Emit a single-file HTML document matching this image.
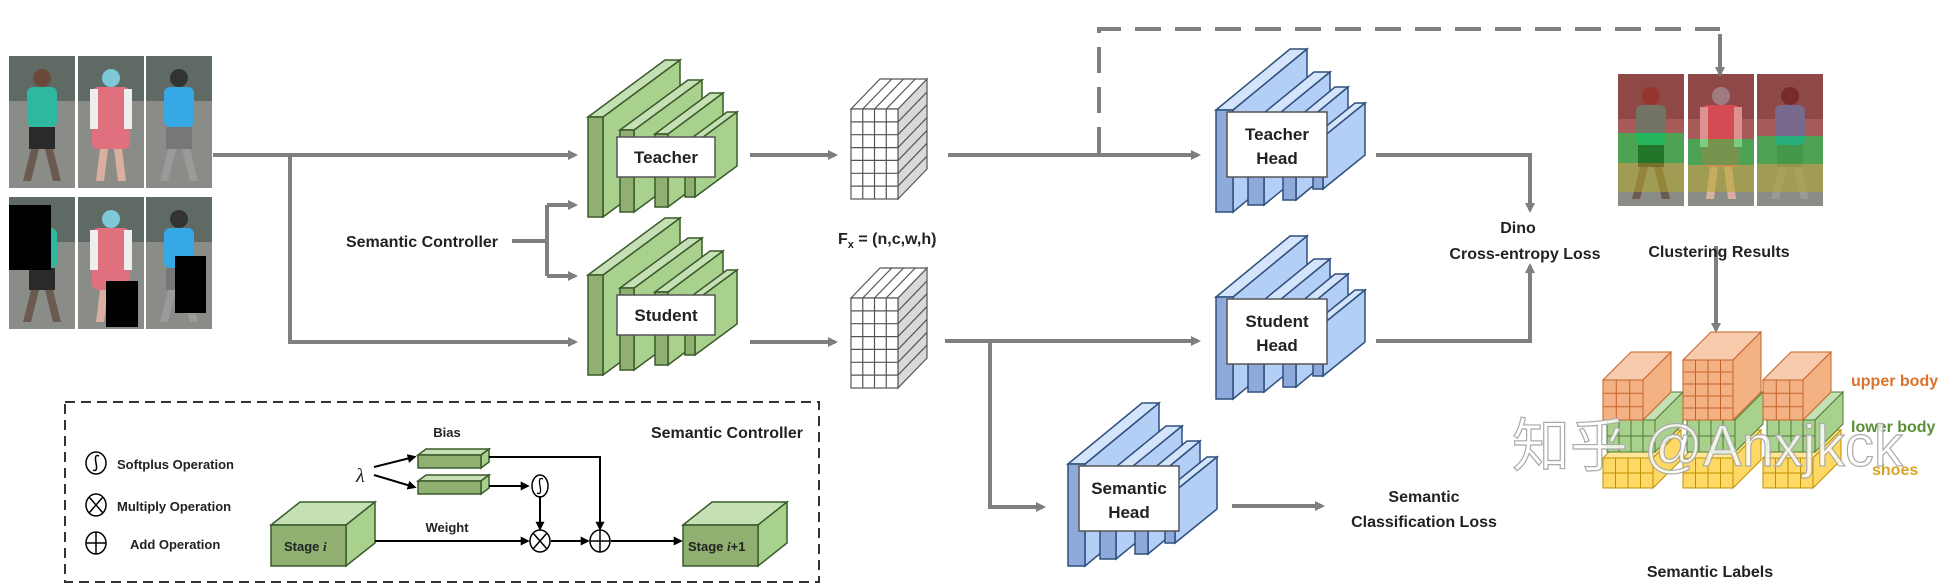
<!DOCTYPE html>
<html><head><meta charset="utf-8"><style>
html,body{margin:0;padding:0;background:#fff;width:1955px;height:587px;overflow:hidden}
svg{display:block}
text{font-family:"Liberation Sans","Noto Sans CJK SC",sans-serif;font-weight:bold;fill:#222}
</style></head><body>
<svg width="1955" height="587" viewBox="0 0 1955 587" xmlns="http://www.w3.org/2000/svg" xmlns:xlink="http://www.w3.org/1999/xlink">
<defs>
<marker id="ag" markerWidth="10" markerHeight="10" refX="7" refY="5" orient="auto" markerUnits="userSpaceOnUse" viewBox="0 0 10 10"><path d="M0,0 L10,5 L0,10 z" fill="#7f7f7f"/></marker>
<marker id="ab" markerWidth="9" markerHeight="9" refX="7" refY="5" orient="auto" markerUnits="userSpaceOnUse" viewBox="0 0 10 10"><path d="M0,0 L10,5 L0,10 z" fill="#000"/></marker>
<g id="gblk" stroke="#3a5a2a" stroke-width="1.5">
<polygon points="603,117 680,60 680,160 603,217" fill="#a9d18e"/>
<polygon points="588,117 665,60 680,60 603,117" fill="#c5e0b4"/>
<rect x="588" y="117" width="15" height="100" fill="#8fb070"/>
<polygon points="634,130 702,80 702,162 634,212" fill="#a9d18e"/>
<polygon points="620,130 688,80 702,80 634,130" fill="#c5e0b4"/>
<rect x="620" y="130" width="14" height="82" fill="#8fb070"/>
<polygon points="668,134 723,93 723,166 668,207" fill="#a9d18e"/>
<polygon points="655,134 710,93 723,93 668,134" fill="#c5e0b4"/>
<rect x="655" y="134" width="13" height="73" fill="#8fb070"/>
<polygon points="695,143 737,112 737,166 695,197" fill="#a9d18e"/>
<polygon points="685,143 727,112 737,112 695,143" fill="#c5e0b4"/>
<rect x="685" y="143" width="10" height="54" fill="#8fb070"/>
</g>
<g id="bblk" stroke="#2f4f7f" stroke-width="1.5">
<polygon points="1233,110 1307,49 1307,151 1233,212" fill="#b4cff5"/>
<polygon points="1216,110 1290,49 1307,49 1233,110" fill="#d3e4fb"/>
<rect x="1216" y="110" width="17" height="102" fill="#8eaadb"/>
<polygon points="1264,126 1330,72 1330,151 1264,205" fill="#b4cff5"/>
<polygon points="1248,126 1314,72 1330,72 1264,126" fill="#d3e4fb"/>
<rect x="1248" y="126" width="16" height="79" fill="#8eaadb"/>
<polygon points="1296,130 1348,87 1348,157 1296,200" fill="#b4cff5"/>
<polygon points="1283,130 1335,87 1348,87 1296,130" fill="#d3e4fb"/>
<rect x="1283" y="130" width="13" height="70" fill="#8eaadb"/>
<polygon points="1323,137 1365,103 1365,155 1323,189" fill="#b4cff5"/>
<polygon points="1313,137 1355,103 1365,103 1323,137" fill="#d3e4fb"/>
<rect x="1313" y="137" width="10" height="52" fill="#8eaadb"/>
</g>
<g id="fcube" stroke="#555" stroke-width="1.2">
<polygon points="898,109 927,79 927,169 898,199" fill="#d9d9d9"/>
<polygon points="851,109 880,79 927,79 898,109" fill="#fff"/>
<rect x="851" y="109" width="47" height="90" fill="#fff"/>
<path fill="none" d="M862.75,109V199M874.5,109V199M886.25,109V199M862.75,109L891.75,79M874.5,109L903.5,79M886.25,109L915.25,79M851,121.9H898M851,134.7H898M851,147.6H898M851,160.4H898M851,173.3H898M851,186.1H898M898,121.9L927,91.9M898,134.7L927,104.7M898,147.6L927,117.6M898,160.4L927,130.4M898,173.3L927,143.3M898,186.1L927,156.1"/>
</g>
<g id="p0"><rect width="66" height="132" fill="#8a8c88"/><rect width="66" height="45" fill="#5f6a64"/><circle cx="33" cy="22" r="9" fill="#6b4a3a"/><rect x="18" y="31" width="30" height="40" rx="6" fill="#2fb8a0"/><rect x="20" y="71" width="26" height="22" fill="#2a2a2a"/><polygon points="22,93 30,93 22,125 14,125" fill="#6a5a50"/><polygon points="36,93 44,93 52,125 44,125" fill="#6a5a50"/></g>
<g id="p1"><rect width="66" height="132" fill="#8a8c88"/><rect width="66" height="45" fill="#5f6a64"/><circle cx="33" cy="22" r="9" fill="#7fc8d8"/><rect x="14" y="31" width="38" height="62" rx="6" fill="#e0707e"/><rect x="12" y="33" width="8" height="40" fill="#eee"/><rect x="46" y="33" width="8" height="40" fill="#eee"/><polygon points="22,93 30,93 26,125 18,125" fill="#d9b0a0"/><polygon points="36,93 44,93 48,125 40,125" fill="#d9b0a0"/></g>
<g id="p2"><rect width="66" height="132" fill="#8a8c88"/><rect width="66" height="45" fill="#5f6a64"/><circle cx="33" cy="22" r="9" fill="#333"/><rect x="18" y="31" width="30" height="40" rx="6" fill="#35a8e6"/><rect x="20" y="71" width="26" height="22" fill="#777"/><polygon points="22,93 30,93 22,125 14,125" fill="#9a9a9a"/><polygon points="36,93 44,93 52,125 44,125" fill="#9a9a9a"/></g>
<g id="vy" stroke="#bf9000"><polygon points="0,458 28,430 78,430 50,458" fill="#ffe699"/><polygon points="50,458 78,430 78,460 50,488" fill="#ffd966"/><rect x="0" y="458" width="50" height="30" fill="#ffd966"/><path fill="none" d="M12.5,458V488M25,458V488M37.5,458V488M0,473H50"/></g>
<g id="vg" stroke="#4e7a30"><polygon points="4,420 32,392 80,392 52,420" fill="#c5e0b4"/><polygon points="52,420 80,392 80,424 52,452" fill="#a9d18e"/><rect x="4" y="420" width="48" height="32" fill="#a9d18e"/><path fill="none" d="M16,420V452M28,420V452M40,420V452M4,436H52"/></g>
<g id="vos" stroke="#c5632a"><polygon points="0,380 28,352 68,352 40,380" fill="#f8cbad"/><polygon points="40,380 68,352 68,392 40,420" fill="#f4b183"/><rect x="0" y="380" width="40" height="40" fill="#f4b183"/><path fill="none" d="M13.3,380V420M26.7,380V420M0,393.3H40M0,406.7H40"/></g>
<g id="vot" stroke="#c5632a"><polygon points="0,360 28,332 78,332 50,360" fill="#f8cbad"/><polygon points="50,360 78,332 78,392 50,420" fill="#f4b183"/><rect x="0" y="360" width="50" height="60" fill="#f4b183"/><path fill="none" d="M12.5,360V420M25,360V420M37.5,360V420M0,372H50M0,384H50M0,396H50M0,408H50"/></g>
</defs>
<!-- photos -->
<use href="#p0" xlink:href="#p0" x="9" y="56"/>
<use href="#p1" xlink:href="#p1" x="78" y="56"/>
<use href="#p2" xlink:href="#p2" x="146" y="56"/>
<use href="#p0" xlink:href="#p0" x="9" y="197"/>
<use href="#p1" xlink:href="#p1" x="78" y="197"/>
<use href="#p2" xlink:href="#p2" x="146" y="197"/>
<rect x="9" y="205" width="42" height="65" fill="#000"/>
<rect x="106" y="281" width="32" height="46" fill="#000"/>
<rect x="175" y="256" width="31" height="57" fill="#000"/>
<use href="#p0" xlink:href="#p0" x="1618" y="74"/>
<use href="#p1" xlink:href="#p1" x="1688" y="74"/>
<use href="#p2" xlink:href="#p2" x="1757" y="74"/>
<g>
<rect x="1618" y="74" width="66" height="59" fill="rgba(200,30,30,0.45)"/><rect x="1618" y="133" width="66" height="30" fill="rgba(30,180,40,0.55)"/><rect x="1618" y="163" width="66" height="29" fill="rgba(180,170,40,0.55)"/>
<rect x="1688" y="74" width="66" height="65" fill="rgba(200,30,30,0.45)"/><rect x="1688" y="139" width="66" height="26" fill="rgba(30,180,40,0.55)"/><rect x="1688" y="165" width="66" height="27" fill="rgba(180,170,40,0.55)"/>
<rect x="1757" y="74" width="66" height="62" fill="rgba(200,30,30,0.45)"/><rect x="1757" y="136" width="66" height="28" fill="rgba(30,180,40,0.55)"/><rect x="1757" y="164" width="66" height="28" fill="rgba(180,170,40,0.55)"/>
</g>
<use href="#gblk" xlink:href="#gblk"/>
<use href="#gblk" xlink:href="#gblk" y="158"/>
<g fill="none" stroke="#7f7f7f" stroke-width="4">
<path d="M213,155 H575" marker-end="url(#ag)"/>
<path d="M290,155 V342 H575" marker-end="url(#ag)"/>
<path d="M512,241 H547 M547,205 V276"/>
<path d="M547,205 H575" marker-end="url(#ag)"/>
<path d="M547,276 H575" marker-end="url(#ag)"/>
<path d="M750,155 H835" marker-end="url(#ag)"/>
<path d="M750,342 H835" marker-end="url(#ag)"/>
<path d="M948,155 H1198" marker-end="url(#ag)"/>
<path d="M945,341 H1198" marker-end="url(#ag)"/>
<path d="M990,341 V507 H1043" marker-end="url(#ag)"/>
<path d="M1376,155 H1530 V210" marker-end="url(#ag)"/>
<path d="M1376,341 H1530 V266" marker-end="url(#ag)"/>
<path d="M1232,506 H1322" marker-end="url(#ag)"/>
<path d="M1720,34 V74" marker-end="url(#ag)"/>
<path d="M1716,246 V330" marker-end="url(#ag)"/>
<path d="M1099,153 V29 H1720" stroke-dasharray="26,14"/>
</g>
<use href="#bblk" xlink:href="#bblk"/>
<use href="#bblk" xlink:href="#bblk" y="187"/>
<use href="#bblk" xlink:href="#bblk" x="-148" y="354"/>
<use href="#fcube" xlink:href="#fcube"/>
<use href="#fcube" xlink:href="#fcube" y="189"/>
<!-- labels -->
<text x="422" y="247" font-size="16" text-anchor="middle">Semantic Controller</text>
<rect x="617" y="137" width="98" height="40" fill="#fff" stroke="#555" stroke-width="1.5"/>
<text x="666" y="163" font-size="17" text-anchor="middle" fill="#333">Teacher</text>
<rect x="617" y="295" width="98" height="40" fill="#fff" stroke="#555" stroke-width="1.5"/>
<text x="666" y="321" font-size="17" text-anchor="middle" fill="#333">Student</text>
<rect x="1227" y="112" width="100" height="65" fill="#fff" stroke="#555" stroke-width="1.5"/>
<text x="1277" y="140" font-size="17" text-anchor="middle" fill="#333">Teacher</text>
<text x="1277" y="164" font-size="17" text-anchor="middle" fill="#333">Head</text>
<rect x="1227" y="299" width="100" height="65" fill="#fff" stroke="#555" stroke-width="1.5"/>
<text x="1277" y="327" font-size="17" text-anchor="middle" fill="#333">Student</text>
<text x="1277" y="351" font-size="17" text-anchor="middle" fill="#333">Head</text>
<rect x="1079" y="466" width="100" height="65" fill="#fff" stroke="#555" stroke-width="1.5"/>
<text x="1129" y="494" font-size="17" text-anchor="middle" fill="#333">Semantic</text>
<text x="1129" y="518" font-size="17" text-anchor="middle" fill="#333">Head</text>
<text x="838" y="244" font-size="16">F<tspan font-size="11" dy="4">x</tspan><tspan dy="-4"> = (n,c,w,h)</tspan></text>
<text x="1518" y="233" font-size="16" text-anchor="middle">Dino</text>
<text x="1525" y="259" font-size="16" text-anchor="middle">Cross-entropy  Loss</text>
<text x="1719" y="257" font-size="16" text-anchor="middle">Clustering Results</text>
<text x="1424" y="502" font-size="16" text-anchor="middle">Semantic</text>
<text x="1424" y="527" font-size="16" text-anchor="middle">Classification Loss</text>
<text x="1710" y="577" font-size="16" text-anchor="middle">Semantic Labels</text>
<!-- voxels -->
<use href="#vy" xlink:href="#vy" x="1603"/><use href="#vy" xlink:href="#vy" x="1683"/><use href="#vy" xlink:href="#vy" x="1763"/>
<use href="#vg" xlink:href="#vg" x="1603"/><use href="#vg" xlink:href="#vg" x="1683"/><use href="#vg" xlink:href="#vg" x="1763"/>
<use href="#vos" xlink:href="#vos" x="1603"/><use href="#vot" xlink:href="#vot" x="1683"/><use href="#vos" xlink:href="#vos" x="1763"/>
<text x="1851" y="386" font-size="16" style="fill:#d8742d">upper body</text>
<text x="1851" y="432" font-size="16" style="fill:#5a8f35">lower body</text>
<text x="1872" y="475" font-size="16" style="fill:#d9a520">shoes</text>
<!-- semantic controller box -->
<rect x="65" y="402" width="754" height="180" fill="none" stroke="#333" stroke-width="2" stroke-dasharray="10,6"/>
<text x="803" y="438" font-size="16" text-anchor="end">Semantic Controller</text>
<g stroke="#000" stroke-width="1.5" fill="none">
<ellipse cx="96" cy="463" rx="10" ry="11"/>
<path d="M99,456 C95,454 95,458 96,463 C97,468 97,472 93,470"/>
<ellipse cx="96" cy="505" rx="10" ry="11"/>
<path d="M89,497 L103,513 M103,497 L89,513"/>
<ellipse cx="96" cy="543" rx="10" ry="11"/>
<path d="M86,543 H106 M96,532 V554"/>
</g>
<text x="117" y="469" font-size="13">Softplus Operation</text>
<text x="117" y="511" font-size="13">Multiply Operation</text>
<text x="130" y="549" font-size="13">Add Operation</text>
<g stroke="#3a5a2a" stroke-width="1.5">
<polygon points="271,525 300,502 375,502 346,525" fill="#c5e0b4"/>
<polygon points="346,525 375,502 375,543 346,566" fill="#a9d18e"/>
<rect x="271" y="525" width="75" height="41" fill="#8fb070"/>
<polygon points="683,525 712,502 787,502 758,525" fill="#c5e0b4"/>
<polygon points="758,525 787,502 787,543 758,566" fill="#a9d18e"/>
<rect x="683" y="525" width="75" height="41" fill="#8fb070"/>
<polygon points="418,455 426,449 489,449 481,455" fill="#c5e0b4"/>
<polygon points="481,455 489,449 489,462 481,468" fill="#a9d18e"/>
<rect x="418" y="455" width="63" height="13" fill="#8fb070"/>
<polygon points="418,481 426,475 489,475 481,481" fill="#c5e0b4"/>
<polygon points="481,481 489,475 489,488 481,494" fill="#a9d18e"/>
<rect x="418" y="481" width="63" height="13" fill="#8fb070"/>
</g>
<text x="284" y="551" font-size="13">Stage <tspan font-style="italic" font-family="Liberation Serif">i</tspan></text>
<text x="688" y="551" font-size="13">Stage <tspan font-style="italic" font-family="Liberation Serif">i</tspan>+1</text>
<text x="447" y="437" font-size="13" text-anchor="middle">Bias</text>
<text x="447" y="532" font-size="13" text-anchor="middle">Weight</text>
<text x="356" y="482" font-size="20" style="font-family:'Liberation Serif',serif;font-style:italic;font-weight:normal">λ</text>
<g stroke="#000" stroke-width="2" fill="none">
<path d="M374,467 L414,457" marker-end="url(#ab)"/>
<path d="M374,475 L414,487" marker-end="url(#ab)"/>
<path d="M489,457 H600 V528" marker-end="url(#ab)"/>
<path d="M489,486 H527" marker-end="url(#ab)"/>
<path d="M540,496 V528" marker-end="url(#ab)"/>
<path d="M375,541 H527" marker-end="url(#ab)"/>
<path d="M551,541 H587" marker-end="url(#ab)"/>
<path d="M611,541 H680" marker-end="url(#ab)"/>
<ellipse cx="540" cy="486" rx="8" ry="11" stroke-width="1.5"/>
<path d="M543,479 C539,477 539,481 540,486 C541,491 541,495 537,493" stroke-width="1.3"/>
<ellipse cx="540" cy="541" rx="10" ry="11" stroke-width="1.5"/>
<path d="M533,533 L547,549 M547,533 L533,549" stroke-width="1.5"/>
<ellipse cx="600" cy="541" rx="10" ry="11" stroke-width="1.5"/>
<path d="M590,541 H610 M600,530 V552" stroke-width="1.5"/>
</g>
<text x="1512" y="466" font-size="58" style="fill:rgba(255,255,255,0.8);stroke:#aaa;stroke-width:1.2;font-weight:normal">知乎 @Anxjkck</text>
</svg>
</body></html>
